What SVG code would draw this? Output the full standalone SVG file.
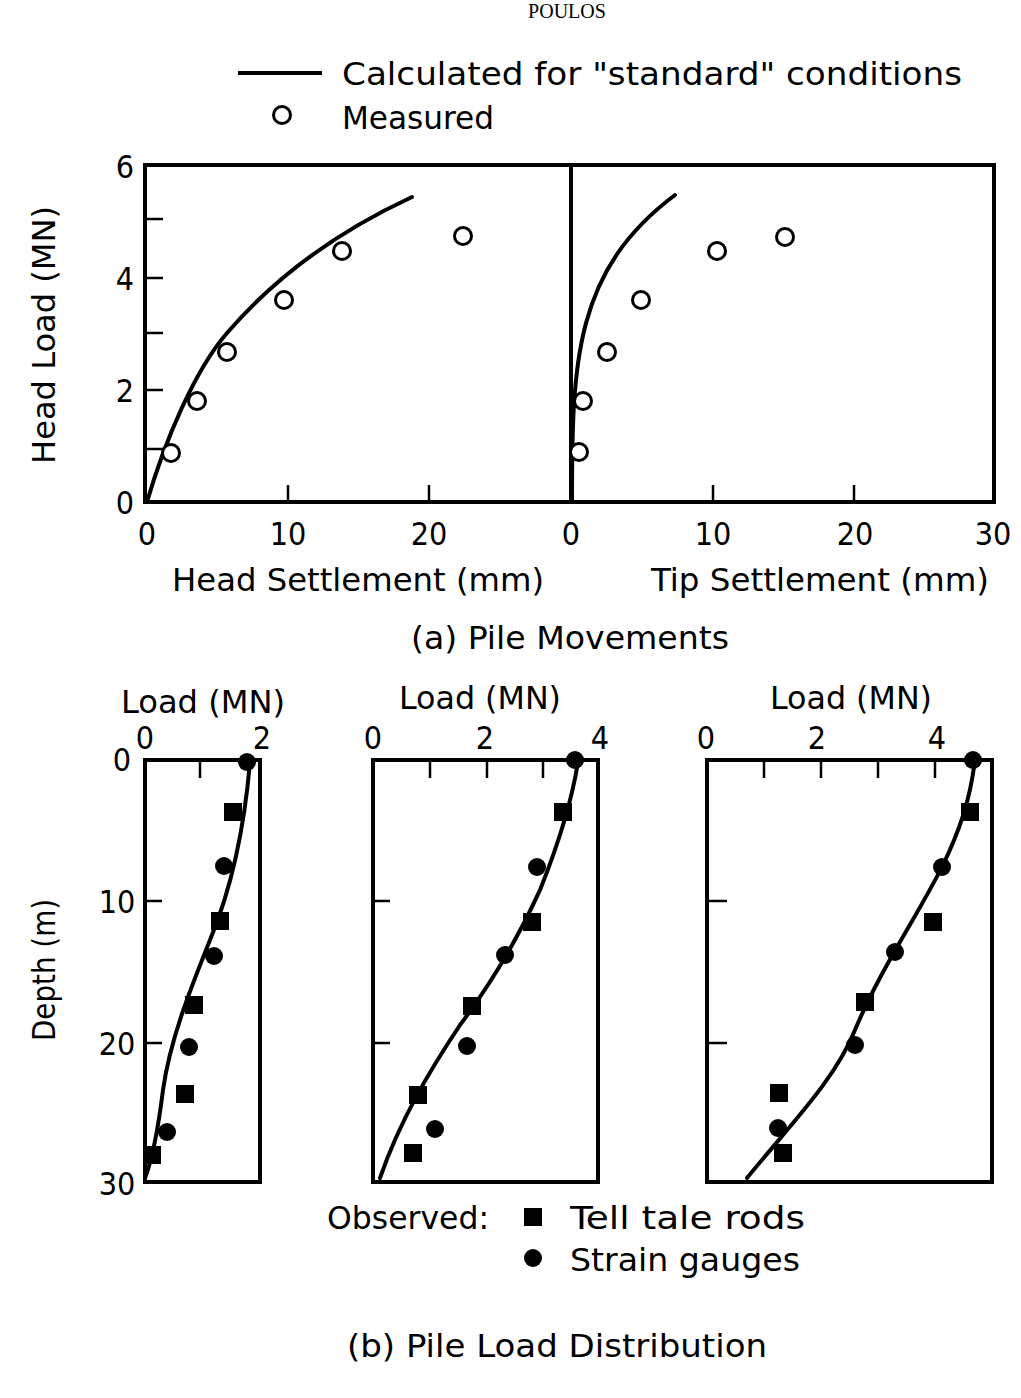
<svg xmlns="http://www.w3.org/2000/svg" width="1021" height="1398" viewBox="0 0 1021 1398">
<style>
text{font-family:"DejaVu Sans Condensed","DejaVu Sans",sans-serif;font-size:32px;fill:#000}
.ax{fill:none;stroke:#000;stroke-width:4}
.tk{stroke:#000;stroke-width:2.5}
.cv{fill:none;stroke:#000;stroke-width:4;stroke-linecap:round}
.m{text-anchor:middle}
</style>
<defs>
<rect id="sq" x="-9" y="-9" width="18" height="18" fill="#000"/>
<circle id="dt" r="9" fill="#000"/>
<circle id="oc" r="8.5" fill="#fff" stroke="#000" stroke-width="3"/>
</defs>
<text x="567" y="18" class="m" style="font-family:'Liberation Serif',serif;font-size:20px">POULOS</text>
<g id="legend-a">
<line x1="238" y1="73" x2="322" y2="73" stroke="#000" stroke-width="4"/>
<text x="342" y="85" textLength="620" lengthAdjust="spacingAndGlyphs">Calculated for "standard" conditions</text>
<use href="#oc" x="282" y="115"/>
<text x="342" y="129" textLength="152" lengthAdjust="spacingAndGlyphs">Measured</text>
</g>
<g id="plot-a">
<rect x="145" y="165" width="849" height="337" class="ax"/>
<line x1="571" y1="165" x2="571" y2="502" class="ax"/>
<g class="tk">
<line x1="145" y1="219" x2="163" y2="219"/><line x1="145" y1="278" x2="163" y2="278"/><line x1="145" y1="333" x2="163" y2="333"/><line x1="145" y1="390" x2="163" y2="390"/><line x1="145" y1="449" x2="165" y2="449"/>
<line x1="288" y1="502" x2="288" y2="485"/><line x1="429" y1="502" x2="429" y2="485"/><line x1="713" y1="502" x2="713" y2="485"/><line x1="854" y1="502" x2="854" y2="485"/>
</g>
<g>
<text x="125" y="178" class="m">6</text><text x="125" y="290" class="m">4</text><text x="125" y="402" class="m">2</text><text x="125" y="514" class="m">0</text>
<text x="147" y="545" class="m">0</text><text x="288" y="545" class="m">10</text><text x="429" y="545" class="m">20</text>
<text x="571" y="545" class="m">0</text><text x="713" y="545" class="m">10</text><text x="855" y="545" class="m">20</text><text x="993" y="545" class="m">30</text>
</g>
<path class="cv" d="M147,502 C165,440 195,370 227,333 C270,283 330,235 412,197"/>
<path class="cv" d="M572,500 C572,360 575,270 675,195"/>
<g>
<use href="#oc" x="171" y="453"/><use href="#oc" x="197" y="401"/><use href="#oc" x="227" y="352"/><use href="#oc" x="284" y="300"/><use href="#oc" x="342" y="251"/><use href="#oc" x="463" y="236"/>
<use href="#oc" x="579" y="452"/><use href="#oc" x="583" y="401"/><use href="#oc" x="607" y="352"/><use href="#oc" x="641" y="300"/><use href="#oc" x="717" y="251"/><use href="#oc" x="785" y="237"/>
</g>
<text x="358" y="591" class="m" textLength="372" lengthAdjust="spacingAndGlyphs">Head Settlement (mm)</text>
<text x="820" y="591" class="m" textLength="338" lengthAdjust="spacingAndGlyphs">Tip Settlement (mm)</text>
<text transform="translate(55,335) rotate(-90)" class="m" textLength="258" lengthAdjust="spacingAndGlyphs">Head Load (MN)</text>
<text x="570" y="649" class="m" textLength="318" lengthAdjust="spacingAndGlyphs">(a) Pile Movements</text>
</g>
<g id="plot-b">
<text x="122" y="771" class="m">0</text><text x="117" y="913" class="m">10</text><text x="117" y="1055" class="m">20</text><text x="117" y="1195" class="m">30</text>
<text transform="translate(55,970) rotate(-90)" class="m" textLength="142" lengthAdjust="spacingAndGlyphs">Depth (m)</text>
<g id="panel1">
<rect x="145" y="760" width="115" height="422" class="ax"/>
<g class="tk"><line x1="200" y1="760" x2="200" y2="778"/><line x1="145" y1="901" x2="162" y2="901"/><line x1="145" y1="1043" x2="162" y2="1043"/></g>
<text x="203" y="713" class="m" textLength="164" lengthAdjust="spacingAndGlyphs">Load (MN)</text>
<text x="145" y="749" class="m">0</text><text x="262" y="749" class="m">2</text>
<path class="cv" d="M250,762 C245,820 235,880 210,940 C190,990 170,1040 163,1090 C158,1130 152,1160 145,1178"/>
<use href="#dt" x="247" y="762"/><use href="#sq" x="233" y="812"/><use href="#dt" x="224" y="866"/><use href="#sq" x="220" y="921"/><use href="#dt" x="214" y="956"/><use href="#sq" x="194" y="1005"/><use href="#dt" x="189" y="1047"/><use href="#sq" x="185" y="1094"/><use href="#dt" x="167" y="1132"/><use href="#sq" x="152" y="1155"/>
</g>
<g id="panel2">
<rect x="373" y="760" width="225" height="422" class="ax"/>
<g class="tk"><line x1="430" y1="760" x2="430" y2="778"/><line x1="487" y1="760" x2="487" y2="778"/><line x1="543" y1="760" x2="543" y2="778"/><line x1="373" y1="901" x2="390" y2="901"/><line x1="373" y1="1043" x2="390" y2="1043"/></g>
<text x="480" y="709" class="m" textLength="162" lengthAdjust="spacingAndGlyphs">Load (MN)</text>
<text x="373" y="749" class="m">0</text><text x="485" y="749" class="m">2</text><text x="600" y="749" class="m">4</text>
<path class="cv" d="M578,762 C572,800 560,840 540,890 C515,945 490,985 460,1025 C430,1070 400,1120 380,1178"/>
<use href="#dt" x="575" y="760"/><use href="#sq" x="563" y="812"/><use href="#dt" x="537" y="867"/><use href="#sq" x="532" y="922"/><use href="#dt" x="505" y="955"/><use href="#sq" x="472" y="1006"/><use href="#dt" x="467" y="1046"/><use href="#sq" x="418" y="1095"/><use href="#dt" x="435" y="1129"/><use href="#sq" x="413" y="1153"/>
</g>
<g id="panel3">
<rect x="707" y="760" width="285" height="422" class="ax"/>
<g class="tk"><line x1="764" y1="760" x2="764" y2="778"/><line x1="821" y1="760" x2="821" y2="778"/><line x1="878" y1="760" x2="878" y2="778"/><line x1="935" y1="760" x2="935" y2="778"/><line x1="707" y1="901" x2="727" y2="901"/><line x1="707" y1="1043" x2="727" y2="1043"/></g>
<text x="851" y="709" class="m" textLength="162" lengthAdjust="spacingAndGlyphs">Load (MN)</text>
<text x="706" y="749" class="m">0</text><text x="817" y="749" class="m">2</text><text x="937" y="749" class="m">4</text>
<path class="cv" d="M975,760 C970,800 960,830 942,867 C915,920 880,970 855,1030 C835,1080 790,1125 747,1178"/>
<use href="#dt" x="973" y="760"/><use href="#sq" x="970" y="812"/><use href="#dt" x="942" y="867"/><use href="#sq" x="933" y="922"/><use href="#dt" x="895" y="952"/><use href="#sq" x="865" y="1002"/><use href="#dt" x="855" y="1045"/><use href="#sq" x="779" y="1093"/><use href="#dt" x="778" y="1128"/><use href="#sq" x="783" y="1153"/>
</g>
<g id="legend-b">
<text x="327" y="1229" textLength="162" lengthAdjust="spacingAndGlyphs">Observed:</text>
<use href="#sq" x="533" y="1217"/>
<text x="570" y="1229" textLength="235" lengthAdjust="spacingAndGlyphs">Tell tale rods</text>
<use href="#dt" x="533" y="1258"/>
<text x="570" y="1271" textLength="230" lengthAdjust="spacingAndGlyphs">Strain gauges</text>
</g>
<text x="557" y="1357" class="m" textLength="420" lengthAdjust="spacingAndGlyphs">(b) Pile Load Distribution</text>
</g>
</svg>
